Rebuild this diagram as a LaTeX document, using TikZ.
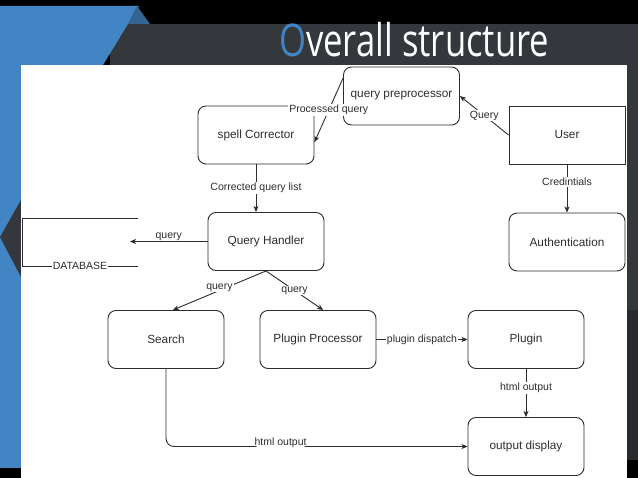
\documentclass[tikz,border=0pt]{standalone}
\usepackage{fontspec}
\setmainfont{Liberation Sans}
\newfontfamily\titlefont[FakeStretch=0.77]{Open Sans}
\usetikzlibrary{positioning, arrows.meta}

\definecolor{slideblue}{RGB}{66,133,196}
\definecolor{slidefold}{RGB}{52,100,146}
\definecolor{slidegray}{RGB}{52,56,60}
\definecolor{slidedark}{RGB}{40,43,46}
\definecolor{inkgray}{RGB}{45,45,45}

\begin{document}
\begin{tikzpicture}[
    x=1pt, y=-1pt, >={Stealth[length=6pt, width=5pt, inset=1.5pt]}, node distance=107pt,
    block/.style={draw=inkgray, line width=0.9pt, rounded corners=8pt, minimum width=116pt,
        minimum height=58pt, text=inkgray, font=\fontsize{11.8}{14}\selectfont},
    wire/.style={draw=inkgray, line width=0.9pt},
    flow/.style={wire, ->},
    lbl/.style={fill=white, text=inkgray, inner sep=1pt, font=\fontsize{10.5}{12}\selectfont}
]
    \useasboundingbox (0,0) rectangle (638,478);

    % slide background
    \fill[black] (0,0) rectangle (638,478);
    \fill[slidegray] (110,24) rectangle (638,460);
    \fill[slidedark] (627,310) rectangle (638,460);
    \fill[slideblue] (0,6) -- (139,6) -- (103,65) -- (103,468) -- (0,468) -- cycle;
    \fill[slidefold] (137,6) -- (150,24) -- (128,24) -- cycle;
    \fill[slidegray] (0,237) -- (21,200) -- (21,277) -- cycle;
    \fill[white] (21,65) rectangle (627,478);

    \node[anchor=base west, inner sep=0pt, text=white, font=\titlefont\fontsize{45}{45}\selectfont]
        (title) at (279,57) {\textcolor{slideblue}{O}verall structure};

    % blocks
    \node[block] (qp) at (401.5,96) {query preprocessor};
    \node[block] (sc) at (256,135) {spell Corrector};
    \node[block, sharp corners] (user) at (567,135) {User};
    \node[block, below of=user] (auth) {Authentication};
    \node[block] (qh) at (266,241.5) {Query Handler};
    \node[block] (search) at (166,339.5) {Search};
    \node[block] (pp) at (318,339.5) {Plugin Processor};
    \node[block] (plugin) at (526,339.5) {Plugin};
    \node[block, below of=plugin] (out) {output display};

    % database bracket
    \coordinate (dbin) at (130,241.5);
    \coordinate (dbtr) at (138,218);
    \coordinate (dbtl) at (22,218);
    \coordinate (dbbl) at (22,266);
    \coordinate (dbbr) at (138,266);
    \draw[wire] (dbtr) -- (dbtl) -- (dbbl) -- node[lbl] {DATABASE} (dbbr);

    \path   (user.west) edge[flow] node[lbl] {Query} (qp.east)
            (qp.163) edge[flow] node[lbl] {Processed query} (sc.353)
            (sc.south) edge[flow] node[lbl] {Corrected query list} (sc.south |- qh.north)
            (qh.west) edge[flow] node[lbl, yshift=5pt] {query} (dbin)
            (qh.south) edge[flow] node[lbl, yshift=3pt] {query} (search.77)
            (qh.south) edge[flow] node[lbl] {query} (pp.80)
            (pp) edge[flow] node[lbl] {plugin dispatch} (plugin)
            (plugin) edge[flow] node[lbl, pos=0.4] {html output} (out)
            (user) edge[flow] node[lbl, pos=0.37] {Credintials} (auth);

    \draw[flow, rounded corners=8pt] (search.south) |- node[lbl, pos=0.69, yshift=4pt] {html output} (out.west);

\end{tikzpicture}
\end{document}
